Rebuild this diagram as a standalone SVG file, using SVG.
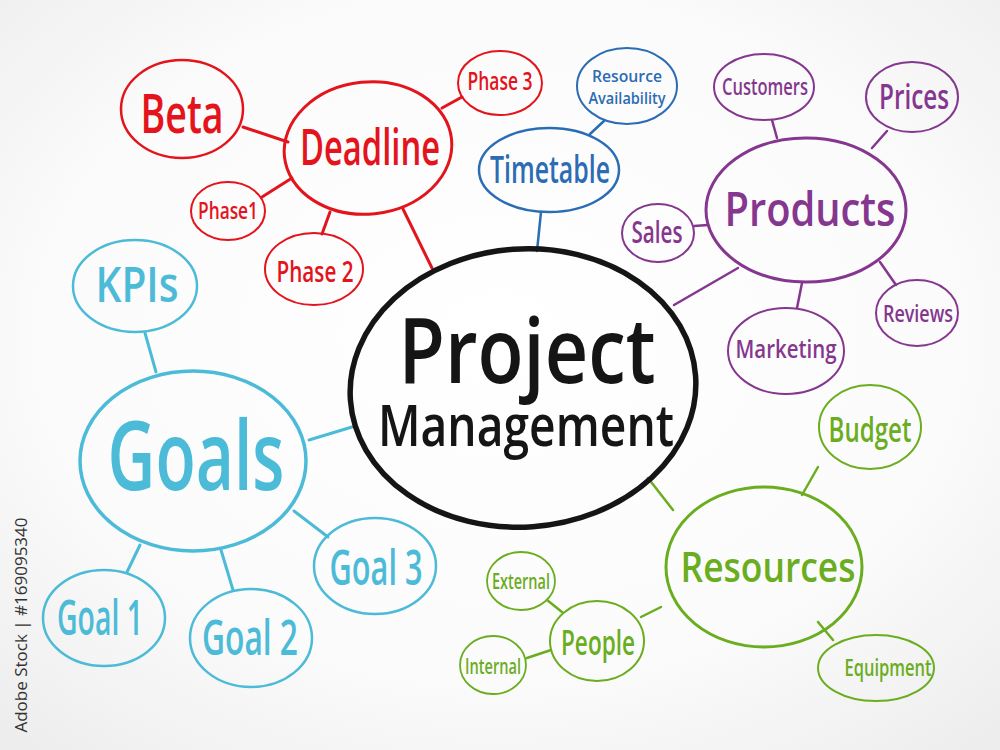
<svg xmlns="http://www.w3.org/2000/svg" width="1000" height="750" viewBox="0 0 1000 750">
<defs>
<radialGradient id="bg" cx="0.5" cy="0.45" r="0.75">
<stop offset="0" stop-color="#ffffff"/>
<stop offset="0.6" stop-color="#fbfbfb"/>
<stop offset="1" stop-color="#ececec"/>
</radialGradient>
</defs>
<style>
.t{font-family:"Open Sans","Liberation Sans",sans-serif;font-weight:600;text-anchor:middle}
.n{fill:none}
.red{stroke:#e3141c}.redt{fill:#e3141c}
.blue{stroke:#2b6cb4}.bluet{fill:#2b6cb4}
.pur{stroke:#85378f}.purt{fill:#85378f}
.grn{stroke:#6aad1f}.grnt{fill:#6aad1f}
.cyan{stroke:#4cbbd7}.cyant{fill:#4cbbd7}
.blk{stroke:#151515}.blkt{fill:#151515}
.c{stroke-linecap:round}
</style>
<rect width="1000" height="750" fill="url(#bg)"/>
<g id="connectors" class="c" fill="none">
<g class="red" stroke-width="3">
<line x1="243" y1="127" x2="288" y2="142"/>
<line x1="442" y1="108" x2="462" y2="97"/>
<line x1="262" y1="197" x2="292" y2="178"/>
<line x1="322" y1="234" x2="330" y2="212"/>
<line x1="403" y1="209" x2="432" y2="268"/>
</g>
<g class="blue" stroke-width="2.5">
<line x1="604" y1="121" x2="590" y2="134"/>
<line x1="541" y1="212" x2="537" y2="251"/>
</g>
<g class="pur" stroke-width="2.5">
<line x1="772" y1="120" x2="777" y2="138"/>
<line x1="887" y1="131" x2="872" y2="148"/>
<line x1="694" y1="226" x2="708" y2="225"/>
<line x1="880" y1="262" x2="896" y2="285"/>
<line x1="802" y1="283" x2="797" y2="308"/>
<line x1="738" y1="268" x2="674" y2="305"/>
</g>
<g class="grn" stroke-width="2.5">
<line x1="648" y1="478" x2="673" y2="510"/>
<line x1="818" y1="467" x2="802" y2="495"/>
<line x1="818" y1="622" x2="833" y2="640"/>
<line x1="641" y1="617" x2="661" y2="607"/>
<line x1="547" y1="600" x2="562" y2="612"/>
<line x1="527" y1="658" x2="551" y2="650"/>
</g>
<g class="cyan" stroke-width="3">
<line x1="145" y1="333" x2="156" y2="372"/>
<line x1="309" y1="440" x2="352" y2="427"/>
<line x1="140" y1="545" x2="127" y2="572"/>
<line x1="221" y1="550" x2="233" y2="590"/>
<line x1="294" y1="511" x2="328" y2="537"/>
</g>
</g>
<g id="center"><ellipse class="n blk" stroke-width="5.5" cx="523" cy="388" rx="173" ry="139" transform="rotate(-4 523 388)"/>
<text class="t blkt" x="527" y="383" font-size="90" textLength="257" lengthAdjust="spacingAndGlyphs">Project</text>
<text class="t blkt" x="526" y="446" font-size="58" textLength="296" lengthAdjust="spacingAndGlyphs">Management</text></g>
<g id="deadline"><ellipse class="n red" stroke-width="3" cx="368" cy="148" rx="84" ry="66" transform="rotate(-6 368 148)"/>
<text class="t redt" x="370" y="165" font-size="50" textLength="140" lengthAdjust="spacingAndGlyphs">Deadline</text></g>
<g id="beta"><ellipse class="n red" stroke-width="2.5" cx="182" cy="109" rx="61" ry="49"/>
<text class="t redt" x="182" y="133" font-size="54" textLength="83" lengthAdjust="spacingAndGlyphs">Beta</text></g>
<g id="phase3"><ellipse class="n red" stroke-width="2" cx="500" cy="83" rx="42" ry="32"/>
<text class="t redt" x="500" y="90" font-size="25" textLength="65" lengthAdjust="spacingAndGlyphs">Phase 3</text></g>
<g id="phase1"><ellipse class="n red" stroke-width="2" cx="228" cy="211" rx="37" ry="29"/>
<text class="t redt" x="228" y="219" font-size="23" textLength="60" lengthAdjust="spacingAndGlyphs">Phase1</text></g>
<g id="phase2"><ellipse class="n red" stroke-width="2" cx="314" cy="269" rx="49" ry="36"/>
<text class="t redt" x="315" y="282" font-size="29" textLength="77" lengthAdjust="spacingAndGlyphs">Phase 2</text></g>
<g id="timetable"><ellipse class="n blue" stroke-width="2.5" cx="549" cy="170" rx="70" ry="42"/>
<text class="t bluet" x="550" y="183" font-size="37" textLength="120" lengthAdjust="spacingAndGlyphs">Timetable</text></g>
<g id="resource-availability"><ellipse class="n blue" stroke-width="2" cx="627" cy="86" rx="50" ry="38"/>
<text class="t bluet" x="627" y="82" font-size="16" textLength="70" lengthAdjust="spacingAndGlyphs">Resource</text>
<text class="t bluet" x="627" y="104" font-size="16" textLength="77" lengthAdjust="spacingAndGlyphs">Availability</text></g>
<g id="products"><ellipse class="n pur" stroke-width="3" cx="806" cy="210" rx="100" ry="72"/>
<text class="t purt" x="810" y="226" font-size="47" textLength="171" lengthAdjust="spacingAndGlyphs">Products</text></g>
<g id="customers"><ellipse class="n pur" stroke-width="2" cx="764" cy="87" rx="50" ry="33"/>
<text class="t purt" x="765" y="95" font-size="23" textLength="86" lengthAdjust="spacingAndGlyphs">Customers</text></g>
<g id="prices"><ellipse class="n pur" stroke-width="2" cx="912" cy="97" rx="46" ry="35"/>
<text class="t purt" x="914" y="109" font-size="34" textLength="70" lengthAdjust="spacingAndGlyphs">Prices</text></g>
<g id="sales"><ellipse class="n pur" stroke-width="2" cx="658" cy="233" rx="36" ry="29"/>
<text class="t purt" x="657" y="243" font-size="30" textLength="51" lengthAdjust="spacingAndGlyphs">Sales</text></g>
<g id="reviews"><ellipse class="n pur" stroke-width="2" cx="917" cy="313" rx="41" ry="33"/>
<text class="t purt" x="918" y="322" font-size="24" textLength="70" lengthAdjust="spacingAndGlyphs">Reviews</text></g>
<g id="marketing"><ellipse class="n pur" stroke-width="2" cx="786" cy="351" rx="58" ry="43"/>
<text class="t purt" x="786" y="358" font-size="25" textLength="101" lengthAdjust="spacingAndGlyphs">Marketing</text></g>
<g id="resources"><ellipse class="n grn" stroke-width="3" cx="764" cy="567" rx="98" ry="80"/>
<text class="t grnt" x="768" y="582" font-size="42" textLength="175" lengthAdjust="spacingAndGlyphs">Resources</text></g>
<g id="budget"><ellipse class="n grn" stroke-width="2" cx="870" cy="427" rx="51" ry="42"/>
<text class="t grnt" x="870" y="442" font-size="34" textLength="83" lengthAdjust="spacingAndGlyphs">Budget</text></g>
<g id="equipment"><ellipse class="n grn" stroke-width="2" cx="876" cy="668" rx="58" ry="33"/>
<text class="t grnt" x="888" y="676" font-size="23" textLength="87" lengthAdjust="spacingAndGlyphs">Equipment</text></g>
<g id="people"><ellipse class="n grn" stroke-width="2" cx="597" cy="641" rx="47" ry="40"/>
<text class="t grnt" x="598" y="655" font-size="34" textLength="74" lengthAdjust="spacingAndGlyphs">People</text></g>
<g id="external"><ellipse class="n grn" stroke-width="1.8" cx="521" cy="581" rx="34" ry="29"/>
<text class="t grnt" x="521" y="589" font-size="21" textLength="58" lengthAdjust="spacingAndGlyphs">External</text></g>
<g id="internal"><ellipse class="n grn" stroke-width="1.8" cx="493" cy="665" rx="33" ry="29"/>
<text class="t grnt" x="493" y="674" font-size="21" textLength="56" lengthAdjust="spacingAndGlyphs">Internal</text></g>
<g id="goals"><ellipse class="n cyan" stroke-width="3.5" cx="193" cy="461" rx="113" ry="90"/>
<text class="t cyant" x="196" y="490" font-size="96" textLength="177" lengthAdjust="spacingAndGlyphs">Goals</text></g>
<g id="kpis"><ellipse class="n cyan" stroke-width="2.5" cx="135" cy="286" rx="62" ry="46"/>
<text class="t cyant" x="137" y="302" font-size="48" textLength="83" lengthAdjust="spacingAndGlyphs">KPIs</text></g>
<g id="goal1"><ellipse class="n cyan" stroke-width="2.5" cx="104" cy="618" rx="61" ry="48"/>
<text class="t cyant" x="100" y="635" font-size="48" textLength="86" lengthAdjust="spacingAndGlyphs">Goal 1</text></g>
<g id="goal2"><ellipse class="n cyan" stroke-width="2.5" cx="251" cy="638" rx="61" ry="49"/>
<text class="t cyant" x="250" y="655" font-size="49" textLength="96" lengthAdjust="spacingAndGlyphs">Goal 2</text></g>
<g id="goal3"><ellipse class="n cyan" stroke-width="2.5" cx="375" cy="566" rx="61" ry="48"/>
<text class="t cyant" x="376" y="585" font-size="49" textLength="93" lengthAdjust="spacingAndGlyphs">Goal 3</text></g>
<text x="22" y="625" transform="rotate(-90 22 625)" font-family="Open Sans, Liberation Sans, sans-serif" font-size="17" fill="#333" text-anchor="middle" dominant-baseline="middle">Adobe Stock | #169095340</text>
</svg>
